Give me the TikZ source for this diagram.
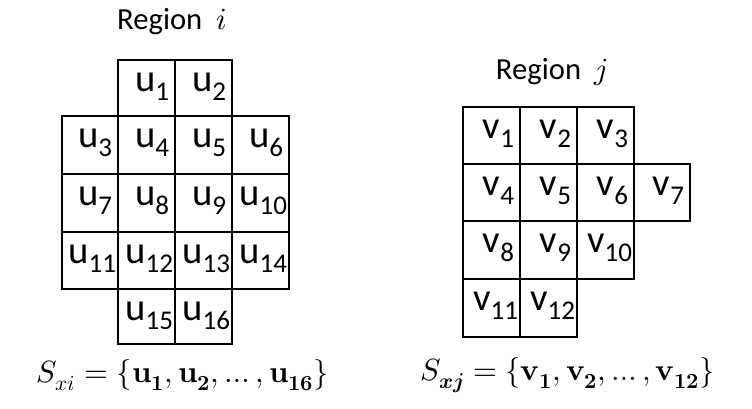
\documentclass[tikz,border=0pt]{standalone}
\usepackage{fontspec}
\setmainfont{Carlito}
\usepackage{amsmath}
\usepackage{unicode-math}
\setmathfont{Latin Modern Math}
\begin{document}
\begin{tikzpicture}[x=0.75pt,y=-0.75pt,
  cellline/.style={line width=1.8pt, line cap=rect},
  lbl/.style={anchor=base east, inner sep=0pt, font=\fontsize{29}{30}\selectfont},
  ttl/.style={font=\fontsize{23}{26}\selectfont},
  frm/.style={font=\fontsize{23}{26}\selectfont}]
\useasboundingbox (0,0) rectangle (752,408);
% left grid
\def\lx{{62,118,175,232,289}}
\def\ly{{60,116,174,232,289,344}}
\foreach \c/\r/\t in {1/0/1,2/0/2,0/1/3,1/1/4,2/1/5,3/1/6,0/2/7,1/2/8,2/2/9,3/2/10,0/3/11,1/3/12,2/3/13,3/3/14,1/4/15,2/4/16}{
  \pgfmathsetmacro\xa{\lx[\c]}\pgfmathsetmacro\xb{\lx[\c+1]}
  \pgfmathsetmacro\ya{\ly[\r]}\pgfmathsetmacro\yb{\ly[\r+1]}
  \draw[cellline] (\xa,\ya) rectangle (\xb,\yb);
  \pgfmathsetmacro\off{\t>9 ? 1 : 5}
  \node[lbl] (u\t) at (\xb-\off,\ya+31) {u\textsubscript{\t}};
}
% right grid
\def\rx{{463,520,577,634,690}}
\def\ry{{107,164,221,279,337}}
\foreach \c/\r/\t in {0/0/1,1/0/2,2/0/3,0/1/4,1/1/5,2/1/6,3/1/7,0/2/8,1/2/9,2/2/10,0/3/11,1/3/12}{
  \pgfmathsetmacro\xa{\rx[\c]}\pgfmathsetmacro\xb{\rx[\c+1]}
  \pgfmathsetmacro\ya{\ry[\r]}\pgfmathsetmacro\yb{\ry[\r+1]}
  \draw[cellline] (\xa,\ya) rectangle (\xb,\yb);
  \pgfmathsetmacro\off{\t>9 ? 1 : 5}
  \node[lbl] (v\t) at (\xb-\off,\ya+31) {v\textsubscript{\t}};
}
\node[ttl] (ti) at (172,22) {Region \ $i$};
\node[ttl] (tj) at (552,72) {Region \ $j$};
\node[frm] (si) at (183,375) {$S_{xi}=\{\symbf{u}_{\symbf{1}},\symbf{u}_{\symbf{2}},\ldots,\symbf{u}_{\symbf{16}}\}$};
\node[frm] (sj) at (568,375) {$S_{\symbfit{xj}}=\{\symbf{v}_{\symbf{1}},\symbf{v}_{\symbf{2}},\ldots,\symbf{v}_{\symbf{12}}\}$};
\end{tikzpicture}
\end{document}
